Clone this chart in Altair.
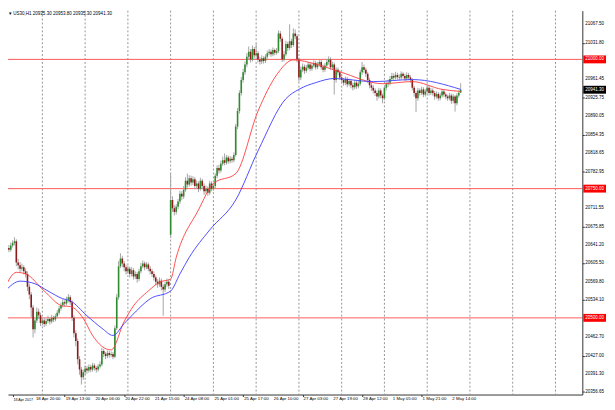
import altair as alt
import pandas as pd

# ---- candle data (US30, H1) ----
closes = [
    20628, 20635, 20632, 20640, 20645, 20648, 20607, 20602, 20595, 20598,
    20590, 20585, 20560, 20545, 20520, 20478, 20495, 20512, 20505, 20490,
    20495, 20488, 20494, 20498, 20493, 20500, 20497, 20503, 20510, 20518,
    20525, 20530, 20528, 20535, 20540, 20530, 20500, 20470, 20455, 20420,
    20400, 20385, 20395, 20402, 20398, 20405, 20400, 20408, 20403, 20400,
    20406, 20410, 20436, 20430, 20426, 20432, 20428, 20430, 20425, 20480,
    20540, 20600, 20615, 20605, 20598, 20590, 20595, 20585, 20592, 20580,
    20585, 20575, 20590, 20600, 20605, 20598, 20603, 20595, 20590, 20585,
    20578, 20570, 20565, 20572, 20560, 20555, 20565, 20570, 20562, 20728,
    20712, 20705, 20715, 20725, 20740, 20735, 20748, 20765, 20758, 20770,
    20762, 20768, 20755, 20760, 20750, 20765, 20755, 20745, 20750, 20742,
    20760, 20750, 20755, 20775, 20790, 20785, 20798, 20805, 20800, 20810,
    20803, 20808, 20805, 20815, 20870, 20900, 20935, 20960, 20975, 20990,
    21005, 21015, 21000, 21020, 21008, 21012, 21000, 20996, 21002, 20997,
    21005, 21012, 21015, 21010, 21018, 21013, 21016, 21050, 21040, 21000,
    21010, 21030, 21022, 21035, 21028, 21050, 21045, 21000, 20965, 20980,
    20986, 20978, 20984, 20990, 20982, 20988, 20993, 20985, 20990, 20995,
    20985, 20980, 20988, 20995, 21000, 20985, 20990, 20960, 20980, 20975,
    20965, 20960, 20955, 20962, 20952, 20958, 20950, 20946, 20955, 20948,
    20953, 20975, 20985, 20980, 20972, 20960, 20950, 20945, 20940, 20935,
    20928, 20940, 20930, 20925, 20945, 20952, 20955, 20962, 20968, 20965,
    20970, 20966, 20965, 20972, 20968, 20963, 20970, 20965, 20960, 20945,
    20935, 20925, 20940, 20935, 20942, 20932, 20938, 20945, 20935, 20940,
    20935, 20928, 20933, 20925, 20930, 20938, 20932, 20928, 20925, 20930,
    20920, 20928, 20915, 20930, 20935.3, 20941.3,
]
highs = [
    20636, 20640, 20641, 20646, 20650, 20656, 20652, 20614, 20608, 20605,
    20602, 20596, 20590, 20566, 20550, 20525, 20500, 20520, 20518, 20510,
    20500, 20500, 20499, 20504, 20502, 20506, 20504, 20508, 20515, 20523,
    20530, 20536, 20534, 20541, 20546, 20544, 20534, 20505, 20476, 20460,
    20426, 20405, 20400, 20408, 20407, 20410, 20409, 20413, 20412, 20407,
    20411, 20416, 20442, 20440, 20434, 20437, 20436, 20435, 20434, 20485,
    20546, 20610, 20625, 20620, 20610, 20603, 20601, 20599, 20598, 20596,
    20590, 20589, 20595, 20606, 20611, 20609, 20608, 20607, 20600, 20595,
    20590, 20582, 20575, 20578, 20576, 20565, 20570, 20576, 20574, 20779,
    20735, 20718, 20720, 20730, 20746, 20745, 20755, 20772, 20779, 20776,
    20775, 20774, 20772, 20766, 20764, 20771, 20769, 20760, 20756, 20754,
    20765, 20764, 20760, 20780, 20795, 20796, 20804, 20812, 20818, 20815,
    20814, 20813, 20812, 20820, 20875, 20906, 20940, 20966, 20982, 20996,
    21012, 21025, 21020, 21027, 21024, 21030, 21016, 21005, 21008, 21006,
    21010, 21017, 21020, 21019, 21023, 21021, 21022, 21056, 21055, 21044,
    21016, 21036, 21034, 21068, 21040, 21060, 21058, 21049, 21004, 20986,
    20992, 20990, 20989, 20995, 20994, 20993, 20998, 20997, 20995, 21000,
    20999, 20990, 20993, 21001, 21006, 21004, 20996, 20994, 20985, 20984,
    20979, 20970, 20964, 20967, 20966, 20963, 20962, 20955, 20960, 20959,
    20958, 20980, 20995, 20990, 20984, 20976, 20964, 20955, 20950, 20944,
    20940, 20945, 20944, 20934, 20950, 20957, 20961, 20968, 20974, 20973,
    20976, 20974, 20971, 20977, 20975, 20972, 20975, 20974, 20969, 20964,
    20949, 20939, 20945, 20944, 20947, 20946, 20943, 20950, 20949, 20945,
    20944, 20939, 20938, 20937, 20935, 20943, 20942, 20936, 20932, 20935,
    20934, 20933, 20931, 20935, 20940, 20953.8,
]
lows = [
    20618, 20624, 20627, 20628, 20636, 20640, 20600, 20594, 20588, 20590,
    20584, 20578, 20552, 20536, 20500, 20462, 20470, 20490, 20498, 20484,
    20485, 20482, 20484, 20490, 20487, 20489, 20492, 20493, 20499, 20506,
    20514, 20520, 20522, 20524, 20530, 20525, 20494, 20462, 20445, 20410,
    20390, 20371, 20380, 20390, 20392, 20394, 20395, 20396, 20398, 20394,
    20396, 20402, 20406, 20424, 20420, 20422, 20423, 20424, 20420, 20422,
    20476, 20535, 20596, 20598, 20590, 20584, 20585, 20578, 20580, 20574,
    20575, 20568, 20571, 20586, 20596, 20592, 20594, 20590, 20584, 20579,
    20572, 20563, 20558, 20560, 20553, 20504, 20550, 20560, 20556, 20655,
    20705, 20698, 20700, 20710, 20720, 20728, 20730, 20744, 20752, 20754,
    20756, 20757, 20749, 20750, 20743, 20746, 20749, 20738, 20740, 20736,
    20738, 20745, 20746, 20751, 20770, 20779, 20781, 20794, 20795, 20796,
    20798, 20799, 20800, 20801, 20812, 20865, 20895, 20930, 20955, 20970,
    20985, 21000, 20994, 20996, 21002, 21003, 20994, 20990, 20991, 20992,
    20993, 21001, 21008, 21005, 21006, 21008, 21009, 21012, 21034, 20995,
    20996, 21006, 21016, 21018, 21022, 21024, 21039, 20994, 20957, 20960,
    20975, 20972, 20974, 20980, 20977, 20978, 20984, 20980, 20981, 20986,
    20980, 20975, 20976, 20984, 20990, 20980, 20980, 20932, 20955, 20969,
    20960, 20954, 20949, 20950, 20946, 20948, 20944, 20940, 20942, 20943,
    20944, 20949, 20970, 20974, 20966, 20954, 20944, 20939, 20934, 20929,
    20920, 20924, 20925, 20915, 20921, 20940, 20947, 20950, 20958, 20960,
    20961, 20961, 20960, 20961, 20963, 20958, 20959, 20960, 20955, 20940,
    20928, 20898, 20920, 20930, 20931, 20927, 20928, 20934, 20930, 20931,
    20930, 20922, 20924, 20920, 20921, 20926, 20927, 20923, 20920, 20921,
    20914, 20915, 20899, 20911, 20926, 20935.3,
]
# each hourly bar opens at the previous close, except the Monday gap bar
opens = [20625] + closes[:88] + [20661] + closes[89:-1]

# ---- moving averages (read at sample bars) ----
red_ma_bars = [0, 6, 11, 21, 31, 35, 42, 47, 52, 57, 64, 69, 77, 83, 89, 92,
               104, 112, 124, 136, 146, 155, 167, 180, 203, 219, 235, 245]
red_ma_vals = [20560, 20588, 20585, 20552, 20523, 20522, 20499, 20466, 20445,
               20438, 20493, 20523, 20552, 20569, 20575, 20617, 20709, 20760,
               20779, 20900, 20970, 20999, 20991, 20976, 20953, 20957, 20942,
               20938]
blue_ma_bars = [0, 8, 16, 23, 31, 35, 44, 52, 58, 64, 68, 78, 89, 94, 99, 110,
                124, 136, 151, 158, 167, 177, 198, 219, 245]
blue_ma_vals = [20552, 20571, 20566, 20552, 20537, 20533, 20504, 20480, 20466,
                20489, 20504, 20537, 20552, 20585, 20617, 20670, 20728, 20823,
                20924, 20942, 20955, 20963, 20957, 20961, 20942]

# ---- levels, axis ticks, labels ----
level_vals = [21000, 20750, 20500]
level_labels = ["21000.00", "20750.00", "20500.00"]
last_price = [20941.3]
last_label = ["20941.30"]
grid_bars = [20, 43, 66, 89, 112, 135, 158, 181, 204, 227, 250, 273, 296]
y_tick_vals = [21067.50, 21031.80, 20961.45, 20925.75, 20890.05, 20854.35,
               20818.65, 20782.95, 20711.55, 20675.85, 20641.20, 20605.50,
               20569.80, 20534.10, 20462.70, 20427.00, 20391.30, 20356.65]
# first label sits at the left edge of the visible window
first_label_bar = [4.17]
first_label_text = ["18 Apr 2017"]
x_label_bars = [16, 32, 48, 64, 80, 96, 112, 128, 144, 160, 176, 192, 208, 224, 240]
x_label_texts = ["18 Apr 20:00", "19 Apr 13:00", "20 Apr 06:00",
                 "20 Apr 22:00", "21 Apr 15:00", "24 Apr 08:00", "25 Apr 01:00",
                 "25 Apr 17:00", "26 Apr 10:00", "27 Apr 03:00", "27 Apr 19:00",
                 "28 Apr 12:00", "1 May 05:00", "1 May 21:00", "2 May 14:00"]
title_text = "\u25be US30,H1  20935.30 20953.80 20935.30 20941.30"

FONT = "Liberation Sans"
FS = 4.6

candles = pd.DataFrame({"bar": list(range(len(closes))), "open": opens,
                        "high": highs, "low": lows, "close": closes})
candles["dir"] = ["up" if c >= o else "down" for o, c in zip(opens, closes)]

X = alt.Scale(domain=[4.17, 307.8], nice=False, zero=False)
Y = alt.Scale(domain=[20351.7, 21094.3], nice=False, zero=False)

# axes: ticks + domain lines; the labels are drawn as text layers below
x_axis = alt.Axis(values=first_label_bar + x_label_bars, labels=False, orient="bottom",
                  tickSize=2, tickColor="#333333", domainColor="#333333",
                  grid=False, title=None)
y_axis = alt.Axis(values=y_tick_vals, labels=False, orient="right",
                  tickSize=2, tickColor="#333333", domainColor="#333333",
                  grid=False, title=None)

base = alt.Chart(candles)
wicks = base.mark_rule(color="#a6a6a6", strokeWidth=1, clip=True).encode(
    x=alt.X("bar:Q", scale=X, axis=x_axis),
    y=alt.Y("low:Q", scale=Y, axis=y_axis),
    y2="high:Q",
)
bodies = base.mark_bar(size=1.6, clip=True).encode(
    x=alt.X("bar:Q", scale=X, title=None),
    y=alt.Y("open:Q", scale=Y, title=None),
    y2="close:Q",
    color=alt.Color("dir:N", scale=alt.Scale(domain=["up", "down"],
                    range=["#2e8b2e", "#8b1a1a"]), legend=None),
)

grid = alt.Chart(pd.DataFrame({"bar": grid_bars})).mark_rule(
    color="#7a7a7a", strokeDash=[2, 2], strokeWidth=0.8).encode(
    x=alt.X("bar:Q", scale=X, title=None))

levels_df = pd.DataFrame({"level": level_vals, "label": level_labels})
levels = alt.Chart(levels_df).mark_rule(color="#ff5a5a", strokeWidth=1).encode(
    y=alt.Y("level:Q", scale=Y, title=None))

red_ma = alt.Chart(pd.DataFrame({"bar": red_ma_bars, "v": red_ma_vals})).mark_line(
    color="#ff3b3b", strokeWidth=0.9, interpolate="monotone", clip=True).encode(
    x=alt.X("bar:Q", scale=X, title=None), y=alt.Y("v:Q", scale=Y, title=None))
blue_ma = alt.Chart(pd.DataFrame({"bar": blue_ma_bars, "v": blue_ma_vals})).mark_line(
    color="#3b3bff", strokeWidth=0.9, interpolate="monotone", clip=True).encode(
    x=alt.X("bar:Q", scale=X, title=None), y=alt.Y("v:Q", scale=Y, title=None))

# x-axis labels (left-aligned just right of each tick)
x_lab_df = pd.DataFrame({"bar": x_label_bars, "label": x_label_texts})
x_labels = alt.Chart(x_lab_df).mark_text(
    font=FONT, fontSize=4.4, align="left", baseline="top", dx=1, color="#000000").encode(
    x=alt.X("bar:Q", scale=X, title=None), y=alt.value(392), text="label:N")
first_df = pd.DataFrame({"bar": first_label_bar, "label": first_label_text})
first_label = alt.Chart(first_df).mark_text(
    font=FONT, fontSize=3.7, align="left", baseline="top", dx=0.5, dy=0.4,
    color="#000000").encode(
    x=alt.X("bar:Q", scale=X, title=None), y=alt.value(392), text="label:N")

# y-axis labels
y_lab_df = pd.DataFrame({"v": y_tick_vals})
y_labels = alt.Chart(y_lab_df).mark_text(
    font=FONT, fontSize=FS, align="left", baseline="middle", color="#000000").encode(
    x=alt.value(585), y=alt.Y("v:Q", scale=Y, title=None),
    text=alt.Text("v:Q", format=".2f"))

level_box = alt.Chart(levels_df).mark_tick(
    orient="horizontal", thickness=8, size=23, color="#ff0000", opacity=1).encode(
    x=alt.value(594.5), y=alt.Y("level:Q", scale=Y, title=None))
level_txt = alt.Chart(levels_df).mark_text(
    color="#ffffff", font=FONT, fontSize=FS, align="center", baseline="middle").encode(
    x=alt.value(594.5), y=alt.Y("level:Q", scale=Y, title=None), text="label:N")

last_df = pd.DataFrame({"level": last_price, "label": last_label})
last_box = alt.Chart(last_df).mark_tick(
    orient="horizontal", thickness=8, size=23, color="#000000", opacity=1).encode(
    x=alt.value(594.5), y=alt.Y("level:Q", scale=Y, title=None))
last_txt = alt.Chart(last_df).mark_text(
    color="#ffffff", font=FONT, fontSize=FS, align="center", baseline="middle").encode(
    x=alt.value(594.5), y=alt.Y("level:Q", scale=Y, title=None), text="label:N")

title = alt.Chart(pd.DataFrame({"t": [title_text]})).mark_text(
    font=FONT, fontSize=FS, align="left", baseline="middle", color="#000000").encode(
    x=alt.value(1), y=alt.value(3), text="t:N")

chart = alt.layer(
    grid, levels, wicks, bodies, red_ma, blue_ma, x_labels, first_label, y_labels,
    level_box, level_txt, last_box, last_txt, title,
).properties(
    width=582, height=389,
    autosize=alt.AutoSizeParams(type="none"),
    padding={"left": 0, "top": 0, "right": 25, "bottom": 13},
    background="#ffffff",
).configure_view(stroke=None)

chart.save("out.html", embed_options={"renderer": "svg", "actions": False})
